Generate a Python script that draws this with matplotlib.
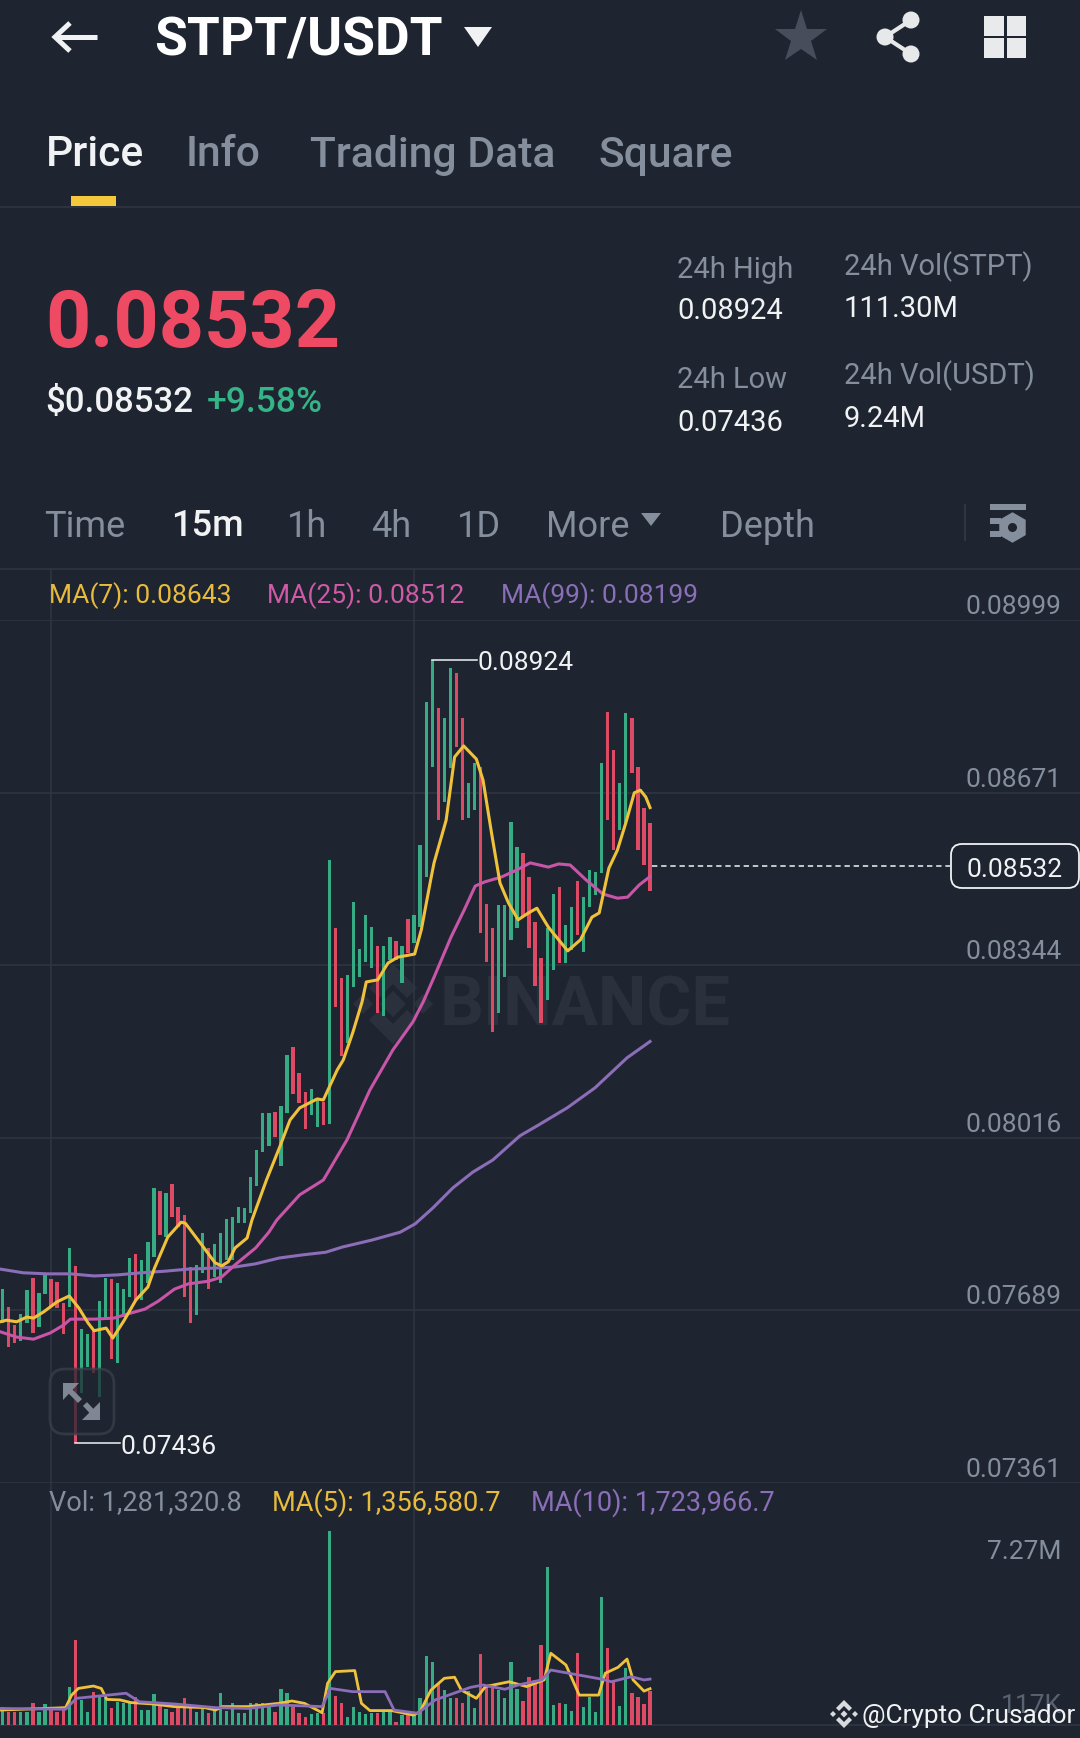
import matplotlib
matplotlib.use("Agg")
import matplotlib.pyplot as plt
import matplotlib.transforms as mt
from matplotlib.patches import Polygon, Rectangle, FancyBboxPatch, Circle

plt.rcParams['font.family'] = ['Roboto', 'DejaVu Sans']

# ---------- data ----------
direction = ("G R R G G R G G R R "
             "R G R G G R G G R G "
             "G G R G G G R G R R "
             "R R G G R G G G G G "
             "G G G G G R G G R R "
             "R G G R G R R G G G "
             "G G R G G R G R G G "
             "G G R G G R R G G R "
             "R R G G G G R R R R "
             "G G R G G R G G G G "
             "R R G G R R R R").split()

high = [.07729,.07695,.07661,.07682,.07727,.07750,.07722,.07760,.07748,.07742,.07703,.07807,.07773,.07653,.07644,.07651,.07706,.07750,
        .07748,.07741,.07729,.07788,.07796,.07784,.07818,.07921,.07915,.07911,.07928,.07885,.07870,.07771,.07775,.07835,.07807,.07815,
        .07835,.07862,.07866,.07885,.07883,.07942,.07993,.08063,.08063,.08065,.08077,.08173,.08189,.08139,.08103,.08109,.08088,.08084,
        .08543,.08414,.08319,.08325,.08464,.08375,.08439,.08416,.08380,.08380,.08397,.08390,.08380,.08431,.08439,.08572,.08843,.08924,
        .08832,.08813,.08908,.08898,.08813,.08690,.08728,.08720,.08460,.08414,.08458,.08458,.08616,.08568,.08557,.08511,.08426,.08357,
        .08414,.08479,.08492,.08420,.08454,.08504,.08473,.08524,.08521,.08728,.08824,.08752,.08690,.08822,.08813,.08720,.08642,.08614]
low = [.07665,.07619,.07627,.07631,.07665,.07646,.07657,.07720,.07695,.07693,.07644,.07695,.07436,.07532,.07581,.07570,.07524,.07670,
       .07596,.07589,.07676,.07714,.07708,.07708,.07741,.07790,.07832,.07828,.07866,.07847,.07714,.07665,.07680,.07760,.07729,.07752,
       .07741,.07784,.07784,.07854,.07854,.07873,.07925,.07989,.08001,.08018,.07963,.08063,.08099,.08082,.08033,.08060,.08037,.08040,
       .08042,.08264,.08171,.08196,.08302,.08321,.08350,.08338,.08253,.08247,.08354,.08354,.08310,.08367,.08386,.08416,.08511,.08720,
       .08619,.08654,.08718,.08758,.08619,.08623,.08638,.08405,.08350,.08217,.08253,.08321,.08392,.08414,.08435,.08376,.08304,.08234,
       .08278,.08335,.08348,.08348,.08373,.08401,.08369,.08454,.08477,.08519,.08619,.08562,.08600,.08614,.08709,.08562,.08534,.08485]
volume = [.69,.50,.50,.47,.47,.81,.50,.79,.56,.47,.56,1.41,3.18,.94,.47,1.25,1.06,1.00,.65,.87,.84,.84,1.06,.56,.56,1.16,.75,.59,.50,
          .65,1.00,.62,.50,.59,.46,.54,1.19,.52,.84,.44,.46,.81,.81,.81,.75,.50,1.34,1.19,.66,.44,.29,.40,.44,.44,7.27,1.09,.84,.29,.69,
          .50,.41,.44,.44,.56,.54,.12,.37,.37,.50,1.00,2.59,2.37,1.56,1.31,1.00,1.00,.81,1.29,.62,2.65,1.44,1.37,1.31,1.00,2.37,1.34,.91,
          1.79,1.69,3.00,5.93,.75,.84,.79,.54,2.69,.69,1.06,.50,4.81,2.87,1.62,.72,2.12,1.19,1.06,.79,1.28]

ma7_i = [-0.4,.67,2.3,4,5.1,6.8,9,11,12.6,14.1,15.1,17.1,18.2,20.1,22,24,25.1,27.3,29.5,30.2,32.9,35.1,36.2,37.3,38.4,40.4,41.2,43.6,45.8,47.5,
         49.1,52,53,55.3,56.3,57.9,59.4,60.1,62,63.7,65.3,68.1,69.2,70.8,71.3,73.3,74.7,76.2,78.3,79.4,80.8,82.2,83.6,85.2,86.9,88.3,
         90.2,91.9,93.4,95.5,97.4,98.6,100.2,101.6,103,104.4,105.4,106.3,107]
ma7_v = [.07667,.07670,.07667,.07676,.07674,.07686,.07705,.07716,.07693,.07665,.07650,.07655,.07636,.07670,.07708,.07733,.07769,.07828,.07856,
         .07854,.07813,.07779,.07773,.07781,.07807,.07826,.07860,.07936,.07999,.08050,.08073,.08090,.08088,.08145,.08164,.08217,.08274,.08312,
         .08316,.08348,.08359,.08365,.08411,.08509,.08538,.08619,.08739,.08760,.08735,.08695,.08595,.08500,.08462,.08430,.08443,.08452,.08416,.08392,
         .08371,.08392,.08435,.08443,.08528,.08562,.08614,.08671,.08676,.08663,.08643]
ma25_i = [-0.4,2.3,5.1,7.9,10.1,11.2,15.1,18.4,20.7,23.5,25.7,28.4,30.7,34,36.2,38.4,41.8,44,45.3,49.1,53,56.9,60.7,64.5,67.8,69.5,71.3,
          74.1,76.3,78.1,79.7,82.4,84.7,87.2,90.2,91.9,93.8,96.4,99.2,101.6,103.3,105.2,107]
ma25_v = [.07648,.07638,.07634,.07646,.07661,.07672,.07672,.07674,.07682,.07691,.07706,.07729,.07739,.07744,.07752,.07775,.07807,.07837,.07860,
          .07908,.07936,.08012,.08107,.08183,.08236,.08274,.08321,.08397,.08449,.08494,.08502,.08511,.08523,.08538,.08530,.08536,.08534,
          .08506,.08479,.08471,.08473,.08496,.08512]
ma99_i = [-0.4,3.4,7.3,11.2,15.1,19,22.9,26.8,30.7,35.1,38.4,41.8,45.7,49.6,53.4,56.2,61,65.7,68.2,71.1,74.4,77.7,81,85.5,88.5,93.3,97.9,103.2,107]
ma99_v = [.07767,.07760,.07758,.07758,.07754,.07756,.07760,.07763,.07767,.07769,.07771,.07777,.07788,.07794,.07799,.07809,.07822,.07837,.07853,
          .07883,.07921,.07951,.07974,.08020,.08040,.08073,.08111,.08168,.08199]
vma5_i = [-0.4,10.4,11.4,12.5,15,16.3,17.2,19.4,21.2,24.7,28.3,33.4,35.2,36.3,40.6,45.6,47.8,49.9,52.8,53.7,55,58.2,59.3,60.7,64.3,67.9,69,70.8,73,
          74.7,75.8,78.3,79.8,83.7,86.6,89.5,90.6,93.1,95.3,98.5,99.6,101.7,103.2,104.2,106,107]
vma5_v = [.56,.65,1.12,1.37,1.46,1.37,.96,.94,.84,.79,.69,.65,.56,.69,.69,.81,.90,.81,.46,1.56,2.00,2.04,.81,.54,.54,.37,.50,1.31,1.75,1.79,1.31,
          1.00,1.44,1.62,1.44,1.69,2.69,2.25,1.12,1.12,1.94,2.16,2.47,1.69,1.27,1.36]
vma10_i = [-0.4,10.4,12.2,16.1,20.4,22.6,28.3,35.2,40.6,45.6,52.8,54.2,57.8,63.2,64.7,68.6,71.5,77.3,79.4,83,85.2,89.1,90.6,95.3,99.2,100.6,103.9,106,107]
vma10_v = [.62,.59,1.00,1.09,1.19,.87,.79,.65,.62,.75,.69,1.37,1.25,1.25,.56,.44,.94,1.41,1.50,1.34,1.50,1.69,2.06,1.87,1.71,1.62,1.81,1.69,1.72]

price_ticks = [0.08999, 0.08671, 0.08344, 0.08016, 0.07689, 0.07361]
last_price = 0.08532
hi_price = 0.08924
lo_price = 0.07436
hi_idx = 71
lo_idx = 12
vgrid_idx = [8, 68]

tabs = ["Price", "Info", "Trading Data", "Square"]
periods = ["Time", "15m", "1h", "4h", "1D", "More", "Depth"]

# ---------- colours ----------
BG = "#1f2530"; GRID = "#303641"; GRAY = "#848e9c"; WHITE = "#f0f2f4"
GREEN = "#36ab84"; RED = "#dc4a64"; YEL = "#f0c23c"; PINK = "#c955a8"; PUR = "#8c6db8"
TXT_Y = "#e8bb3c"; TXT_P = "#cf5aa8"; TXT_U = "#8a6fb8"

W, H = 1080, 1738
fig = plt.figure(figsize=(W/100, H/100), dpi=100, facecolor=BG)

def rect(x0, y0, x1, y1):
    return [x0/W, 1-y1/H, (x1-x0)/W, (y1-y0)/H]

# background layer in pixel units
bg = fig.add_axes([0, 0, 1, 1], zorder=0); bg.set_xlim(0, W); bg.set_ylim(H, 0); bg.axis("off")
top = fig.add_axes([0, 0, 1, 1], zorder=5); top.set_xlim(0, W); top.set_ylim(H, 0); top.axis("off"); top.patch.set_alpha(0)

xmin, xmax = -0.44, 178.07
n = len(high)
idx = list(range(n))
cols = [GREEN if d == "G" else RED for d in direction]

# price axes
ax = fig.add_axes(rect(0, 620, W, 1483), zorder=2)
ax.patch.set_alpha(0)
ax.set_xlim(xmin, xmax); ax.set_ylim(0.07361, 0.08999)
for s in ax.spines.values(): s.set_visible(False)
ax.set_xticks([])
ax.yaxis.tick_right()
ax.set_yticks(price_ticks)
ax.set_yticklabels([f"{p:.5f}" for p in price_ticks], fontsize=19, color=GRAY)
ax.tick_params(axis="y", length=0, pad=-13.2)
ax.grid(axis="y", color=GRID, lw=1.1)
ax.set_axisbelow(True)
for lab in ax.get_yticklabels():
    lab.set_ha("right"); lab.set_va("center")
    lab.set_transform(lab.get_transform() + mt.ScaledTranslation(0, 13/100, fig.dpi_scale_trans))

ax.bar(idx, [h-l for h, l in zip(high, low)], bottom=low, width=3.3/6.05, color=cols, lw=0, zorder=2)
ax.plot(ma99_i, ma99_v, color=PUR, lw=2.2, zorder=3, solid_joinstyle="round")
ax.plot(ma25_i, ma25_v, color=PINK, lw=2.2, zorder=3, solid_joinstyle="round")
ax.plot(ma7_i, ma7_v, color=YEL, lw=2.2, zorder=4, solid_joinstyle="round")
ax.plot([107.3, 156.6], [last_price]*2, color=WHITE, lw=1.1, dashes=(3.5, 2.5), zorder=3)

# hi / lo callouts
ax.plot([hi_idx, hi_idx+7.4], [hi_price]*2, color=WHITE, lw=1.1, zorder=4)
ax.annotate("0.08924", (hi_idx+7.5, hi_price), xytext=(0, -2.4), textcoords="offset points",
            color=WHITE, fontsize=19, va="center", ha="left", zorder=5)
ax.plot([lo_idx, lo_idx+7.4], [lo_price]*2, color=WHITE, lw=1.1, zorder=4)
ax.annotate("0.07436", (lo_idx+7.4, lo_price), xytext=(0, -2.6), textcoords="offset points",
            color=WHITE, fontsize=19, va="center", ha="left", zorder=5, annotation_clip=False)

# volume axes
vx = fig.add_axes(rect(0, 1531, W, 1725), zorder=2)
vx.patch.set_alpha(0)
vx.set_xlim(xmin, xmax); vx.set_ylim(0, 7.27)
for s in vx.spines.values(): s.set_visible(False)
vx.set_xticks([])
vx.yaxis.tick_right()
vx.set_yticks([7.27])
vx.set_yticklabels(["7.27M"], fontsize=19, color=GRAY)
vx.tick_params(axis="y", length=0, pad=-13.2)
for lab in vx.get_yticklabels():
    lab.set_ha("right"); lab.set_va("center")
    lab.set_transform(lab.get_transform() + mt.ScaledTranslation(0, -21/100, fig.dpi_scale_trans))
vx.bar(idx, volume, width=3.3/6.05, color=cols, lw=0, zorder=2)
vx.plot(vma5_i, vma5_v, color=YEL, lw=2.0, zorder=3, solid_joinstyle="round")
vx.plot(vma10_i, vma10_v, color=PUR, lw=2.0, zorder=4, solid_joinstyle="round")

# layout lines
for yy in (207, 569, 1725):
    bg.plot([0, W], [yy, yy], color=GRID, lw=1.2)
for i in vgrid_idx:
    xp = (i - xmin) / (xmax - xmin) * W
    bg.plot([xp, xp], [569, 1725], color=GRID, lw=1.1)

# watermark
wm = "#2b313c"
bg.text(440, 1007, "BINANCE", color=wm, fontsize=49.5, fontweight="bold", va="center", ha="left")
cx, cy = 393, 1004
def dia(x, y, r): bg.add_patch(Polygon([(x, y-r), (x+r, y), (x, y+r), (x-r, y)], color=wm, lw=0))
dia(cx, cy, 13); dia(cx-30, cy, 10); dia(cx+30, cy, 10)
bg.add_patch(Polygon([(cx, cy-40), (cx+24, cy-16), (cx+14, cy-6), (cx, cy-20), (cx-14, cy-6), (cx-24, cy-16)], color=wm, lw=0))
bg.add_patch(Polygon([(cx, cy+40), (cx+24, cy+16), (cx+14, cy+6), (cx, cy+20), (cx-14, cy+6), (cx-24, cy+16)], color=wm, lw=0))

# header
top.plot([97, 56], [37, 37], color=WHITE, lw=3.6, solid_capstyle="butt")
top.plot([70, 55, 70], [23, 37, 51], color=WHITE, lw=3.6, solid_joinstyle="miter", solid_capstyle="butt")
top.text(154, 41, "STPT/USDT", color="white", fontsize=38.3, fontweight="bold", va="center", ha="left")
top.add_patch(Polygon([(464, 27), (492, 27), (478, 47)], color=WHITE, lw=0))
top.plot([801], [38], marker="*", ms=40, color="#474d5b", mew=0)
for (x, y) in [(885, 37), (911, 20), (911, 54)]:
    top.add_patch(Circle((x, y), 8.5, color="#e6e8ea", lw=0))
top.plot([911, 885, 911], [20, 37, 54], color="#e6e8ea", lw=3)
for (x, y) in [(984, 16), (1006.5, 16), (984, 38), (1006.5, 38)]:
    top.add_patch(Rectangle((x, y), 19.5, 19.5, color="#e8eaec", lw=0))

for t, x, c in zip(tabs, [46, 186, 310, 599], [WHITE, GRAY, GRAY, GRAY]):
    top.text(x, 155, t, color=c, fontsize=30.7, fontweight="medium", va="center", ha="left")
top.add_patch(Rectangle((71, 196), 45, 10, color="#f5c83c", lw=0))

top.text(45, 326, "0.08532", color="#ef4a63", fontsize=57, fontweight="bold", va="center", ha="left")
top.text(45, 403, "$0.08532", color=WHITE, fontsize=25, fontweight="medium", va="center", ha="left")
top.text(207, 403, "+9.58%", color="#35b487", fontsize=25.5, fontweight="medium", va="center", ha="left")

for t, x, y, c in [("24h High", 677, 270, GRAY), ("0.08924", 677, 311, WHITE), ("24h Low", 677, 380, GRAY), ("0.07436", 677, 423, WHITE),
                   ("24h Vol(STPT)", 844, 267, GRAY), ("111.30M", 844, 309, WHITE), ("24h Vol(USDT)", 844, 376, GRAY), ("9.24M", 844, 419, WHITE)]:
    top.text(x, y, t, color=c, fontsize=21, va="center", ha="left")

for t, x in zip(periods, [44, 171, 287, 371, 457, 546, 720]):
    sel = t == "15m"
    top.text(x, 527, t, color=WHITE if sel else GRAY, fontsize=26, fontweight="medium" if sel else "normal", va="center", ha="left")
top.add_patch(Polygon([(641, 513), (661, 513), (651, 526)], color=GRAY, lw=0))
top.plot([965, 965], [505, 540], color=GRID, lw=1.5)
top.add_patch(Rectangle((990, 504), 36, 6, color=GRAY, lw=0))
top.add_patch(Rectangle((990, 518), 11, 6, color=GRAY, lw=0))
top.add_patch(Rectangle((990, 531), 11, 6, color=GRAY, lw=0))
top.plot([1012], [527], marker="h", ms=22, color=GRAY, mew=0)
top.plot([1012], [527], marker="o", ms=6.5, color=BG, mew=0)

for t, x, c in [("MA(7): 0.08643", 49, TXT_Y), ("MA(25): 0.08512", 267, TXT_P), ("MA(99): 0.08199", 501, TXT_U)]:
    top.text(x, 596, t, color=c, fontsize=19, va="center", ha="left")
for t, x, c in [("Vol: 1,281,320.8", 49, GRAY), ("MA(5): 1,356,580.7", 272, TXT_Y), ("MA(10): 1,723,966.7", 531, TXT_U)]:
    top.text(x, 1503, t, color=c, fontsize=19.5, va="center", ha="left")

# current price box
top.add_patch(FancyBboxPatch((951, 844), 128, 44, boxstyle="round,pad=0,rounding_size=11", lw=1.3, ec=WHITE, fc=BG))
top.text(1015, 870, "0.08532", color=WHITE, fontsize=19, va="center", ha="center")

# expand button
top.add_patch(FancyBboxPatch((50, 1369), 64, 65, boxstyle="round,pad=0,rounding_size=15", lw=2, ec="#3a404c", fc=BG, alpha=0.72))
btn = "#7f8795"
top.plot([66, 80], [1387, 1401], color=btn, lw=4, solid_capstyle="butt")
top.add_patch(Polygon([(63, 1383), (79, 1383), (63, 1400)], color=btn, lw=0))
top.plot([85, 98], [1404, 1418], color=btn, lw=4, solid_capstyle="butt")
top.add_patch(Polygon([(100, 1420), (82, 1420), (100, 1402)], color=btn, lw=0))

# bottom-right: axis label and author mark
top.text(1062, 1706, "117K", color="#5a6270", fontsize=19, va="center", ha="right")
top.text(862, 1716, "@Crypto Crusador", color=WHITE, fontsize=18.9, va="center", ha="left")
mx, my = 844, 1714
def wdia(x, y, r): top.add_patch(Polygon([(x, y-r), (x+r, y), (x, y+r), (x-r, y)], color="#d8dade", lw=0))
wdia(mx, my, 3.5); wdia(mx-11, my, 3); wdia(mx+11, my, 3)
top.add_patch(Polygon([(mx, my-14), (mx+8, my-6), (mx+5, my-3), (mx, my-8), (mx-5, my-3), (mx-8, my-6)], color="#d8dade", lw=0))
top.add_patch(Polygon([(mx, my+14), (mx+8, my+6), (mx+5, my+3), (mx, my+8), (mx-5, my+3), (mx-8, my+6)], color="#d8dade", lw=0))

fig.savefig("out.png", dpi=100, facecolor=BG)
